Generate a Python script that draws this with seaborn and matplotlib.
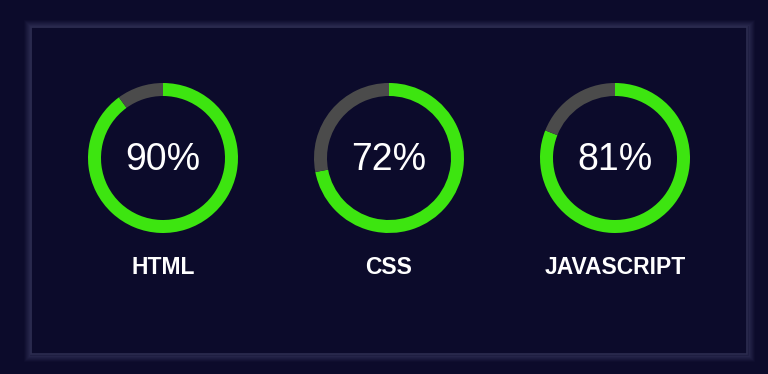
import matplotlib
matplotlib.use("Agg")
import matplotlib.pyplot as plt
import seaborn as sns
from matplotlib.patches import Rectangle

skills = ["HTML", "CSS", "JAVASCRIPT"]
percents = [90, 72, 81]
pct_labels = ["90%", "72%", "81%"]

BG = "#0c0b2b"
GREEN = "#3de510"
GRAY = "#4b4b4b"

sns.set_theme(style="dark")
plt.rcParams["font.family"] = ["Liberation Sans", "DejaVu Sans"]

W, H = 768, 374
fig = plt.figure(figsize=(W / 100, H / 100), dpi=100, facecolor=BG)

# background axes in pixel coords for the glowing frame
bg = fig.add_axes([0, 0, 1, 1])
bg.set_xlim(0, W)
bg.set_ylim(H, 0)
bg.axis("off")
bg.set_facecolor(BG)
x0, y0, x1, y1 = 31, 27, 747, 354
for i, a in enumerate([0.04, 0.05, 0.07, 0.09, 0.11, 0.13]):
    g = 6 - i
    bg.add_patch(Rectangle((x0 - g, y0 - g), (x1 - x0) + 2 * g, (y1 - y0) + 2 * g,
                           fill=False, lw=2, ec="#6a6a9a", alpha=a))
bg.add_patch(Rectangle((x0, y0), x1 - x0, y1 - y0, fill=False, lw=1.2, ec="#2c2c50"))

centers_x = [163, 389, 615]
cy = 158
R = 75
width = 13

for cx, p, lab, name in zip(centers_x, percents, pct_labels, skills):
    ax = fig.add_axes([(cx - R) / W, 1 - (cy + R) / H, 2 * R / W, 2 * R / H])
    ax.pie([p, 100 - p], colors=[GREEN, GRAY], startangle=90, counterclock=False,
           radius=1, wedgeprops=dict(width=width / R, linewidth=0))
    ax.set_xlim(-1, 1)
    ax.set_ylim(-1, 1)
    ax.axis("off")
    bg.text(cx, 160, lab, ha="center", va="center", color="white", fontsize=27)
    bg.text(cx, 267, name, ha="center", va="center", color="white",
            fontsize=16.5, fontweight="bold")

fig.savefig("out.png", dpi=100, facecolor=BG)
